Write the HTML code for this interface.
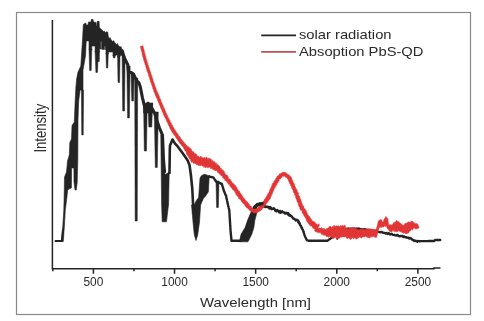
<!DOCTYPE html>
<html><head><meta charset="utf-8"><style>
html,body{margin:0;padding:0;background:#fff;}
body{width:484px;height:321px;overflow:hidden;position:relative;}
svg{position:absolute;left:0;top:0;will-change:transform;}
text{font-family:"Liberation Sans",sans-serif;fill:#2a2a2a;}
</style></head><body>
<svg width="484" height="321" viewBox="0 0 484 321">
<rect x="16.5" y="12.5" width="454" height="302" fill="none" stroke="#8a8a8a" stroke-width="1.2"/>
<line x1="52.4" y1="20" x2="52.4" y2="268.5" stroke="#242424" stroke-width="1.5"/>
<polyline points="51.7,268.7 434,268.7 434,268 440.5,268" fill="none" stroke="#242424" stroke-width="1.5"/>
<line x1="52.84" y1="268.5" x2="52.84" y2="271.2" stroke="#242424" stroke-width="1.5"/><line x1="93.40" y1="268.5" x2="93.40" y2="273.8" stroke="#242424" stroke-width="1.5"/><line x1="133.96" y1="268.5" x2="133.96" y2="271.2" stroke="#242424" stroke-width="1.5"/><line x1="174.53" y1="268.5" x2="174.53" y2="273.8" stroke="#242424" stroke-width="1.5"/><line x1="215.09" y1="268.5" x2="215.09" y2="271.2" stroke="#242424" stroke-width="1.5"/><line x1="255.65" y1="268.5" x2="255.65" y2="273.8" stroke="#242424" stroke-width="1.5"/><line x1="296.21" y1="268.5" x2="296.21" y2="271.2" stroke="#242424" stroke-width="1.5"/><line x1="336.77" y1="268.5" x2="336.77" y2="273.8" stroke="#242424" stroke-width="1.5"/><line x1="377.34" y1="268.5" x2="377.34" y2="271.2" stroke="#242424" stroke-width="1.5"/><line x1="417.90" y1="268.5" x2="417.90" y2="273.8" stroke="#242424" stroke-width="1.5"/>
<g font-size="11.9"><text x="93.40" y="285.5" text-anchor="middle">500</text><text x="174.53" y="285.5" text-anchor="middle">1000</text><text x="255.65" y="285.5" text-anchor="middle">1500</text><text x="336.77" y="285.5" text-anchor="middle">2000</text><text x="417.90" y="285.5" text-anchor="middle">2500</text></g>
<text x="200" y="306.8" font-size="13.4" transform="translate(200 0) scale(1.11 1) translate(-200 0)">Wavelength [nm]</text>
<text x="0" y="0" font-size="13.1" transform="translate(46 152.6) rotate(-90) scale(1 1.22)">Intensity</text>
<line x1="261.2" y1="35.4" x2="296" y2="35.4" stroke="#242424" stroke-width="1.7"/>
<line x1="261.2" y1="51.9" x2="296" y2="51.9" stroke="#bb5252" stroke-width="1.9"/>
<text x="299" y="39.5" font-size="13.4" transform="translate(299 0) scale(1.1 1) translate(-299 0)">solar radiation</text>
<text x="299" y="56.3" font-size="13.4" transform="translate(299 0) scale(1.1 1) translate(-299 0)">Absoption PbS-QD</text>
<polyline points="55.50,241.00 61.80,241.00 63.00,230.00" fill="none" stroke="#242424" stroke-width="2.0" stroke-linejoin="round" stroke-linecap="round"/><polygon points="61.50,241.50 62.80,226.00 63.80,210.00 64.20,194.00 64.50,177.00 66.50,172.00 67.50,161.00 69.30,155.00 69.80,142.50 71.50,139.00 72.00,125.50 74.30,122.00 75.20,100.00 75.90,87.00 76.60,79.00 78.00,72.00 80.80,66.00 81.50,55.00 82.50,40.00 83.30,25.00 83.80,24.00 85.80,23.00 86.20,25.00 88.00,25.00 88.50,22.00 91.00,22.00 91.30,19.50 93.00,19.30 93.50,22.00 96.00,22.50 96.30,26.00 96.90,26.00 97.10,21.50 99.10,21.30 99.30,27.00 100.20,28.40 101.50,29.50 103.50,31.50 104.40,31.00 105.50,33.00 106.30,31.80 107.70,32.00 108.40,37.00 109.20,38.70 110.00,37.50 111.00,39.60 112.50,41.50 113.50,40.50 114.70,42.40 116.50,44.50 117.50,43.50 118.50,46.00 120.30,47.10 121.00,46.50 122.20,50.00 124.30,57.80 124.30,57.80 122.80,57.00 122.80,55.50 120.00,55.50 120.00,57.00 117.60,57.00 117.60,55.00 115.30,55.00 115.30,56.00 113.00,56.00 113.00,52.00 108.30,52.00 108.30,54.00 106.00,54.00 106.00,49.50 105.30,49.50 105.30,46.00 104.40,46.00 104.40,49.40 101.60,49.20 101.60,41.50 100.70,41.50 100.70,49.10 99.40,49.00 99.40,52.00 95.10,52.00 95.10,46.00 91.80,46.00 91.80,50.00 89.00,50.00 89.00,40.90 86.20,40.90 85.60,55.00 84.30,63.00 83.00,70.00 83.00,90.00 80.10,90.00 78.70,101.00 78.00,120.00 77.80,160.00 77.20,182.70 76.20,190.00 75.00,190.00 74.00,182.00 73.90,168.00 71.60,168.00 71.40,188.00 69.80,188.50 67.70,190.00 66.60,200.00 65.30,210.00 64.40,226.00 63.30,241.50" fill="#242424" stroke="#242424" stroke-width="0.6" stroke-linejoin="round"/><polygon points="89.00,49.00 91.80,49.00 91.20,70.50 89.60,70.50" fill="#242424" stroke="#242424" stroke-width="0.5" stroke-linejoin="round"/><polygon points="95.05,51.00 98.35,51.00 97.50,72.40 95.90,72.40" fill="#242424" stroke="#242424" stroke-width="0.5" stroke-linejoin="round"/><polygon points="97.90,51.00 99.50,51.00 99.30,61.50 98.10,61.50" fill="#242424" stroke="#242424" stroke-width="0.5" stroke-linejoin="round"/><polygon points="105.95,53.00 108.25,53.00 107.80,68.00 106.40,68.00" fill="#242424" stroke="#242424" stroke-width="0.5" stroke-linejoin="round"/><polygon points="112.95,55.00 115.25,55.00 114.80,58.00 113.40,58.00" fill="#242424" stroke="#242424" stroke-width="0.5" stroke-linejoin="round"/><polygon points="117.60,56.00 120.00,56.00 119.60,82.40 118.00,82.40" fill="#242424" stroke="#242424" stroke-width="0.5" stroke-linejoin="round"/><polygon points="81.40,90.00 83.60,90.00 83.25,135.00 81.75,135.00" fill="#242424" stroke="#242424" stroke-width="0.5" stroke-linejoin="round"/><polyline points="122.20,50.80 124.30,57.80 126.40,62.00 127.80,64.80 128.50,71.80 131.30,72.50 133.40,74.00 135.50,78.20 137.60,81.70 139.00,83.00 140.40,87.30 142.40,97.60 144.50,106.00 146.10,105.00 148.00,103.20 151.10,106.80 154.80,113.60 156.70,120.00 159.30,127.50 162.40,135.00 163.50,160.00 164.50,172.00" fill="none" stroke="#242424" stroke-width="3.1" stroke-linejoin="round" stroke-linecap="round"/><polygon points="122.10,56.00 125.10,56.00 124.50,111.00 122.70,111.00" fill="#242424" stroke="#242424" stroke-width="0.5" stroke-linejoin="round"/><polygon points="126.85,66.00 130.15,66.00 129.40,118.00 127.60,118.00" fill="#242424" stroke="#242424" stroke-width="0.5" stroke-linejoin="round"/><polygon points="131.00,73.00 134.20,73.00 133.45,101.00 131.75,101.00" fill="#242424" stroke="#242424" stroke-width="0.5" stroke-linejoin="round"/><polygon points="134.70,78.00 137.70,78.00 137.25,221.00 135.15,221.00" fill="#242424" stroke="#242424" stroke-width="0.5" stroke-linejoin="round"/><polygon points="143.60,105.00 147.20,105.00 146.50,151.00 144.30,151.00" fill="#242424" stroke="#242424" stroke-width="0.5" stroke-linejoin="round"/><polygon points="148.00,103.00 152.60,103.00 151.80,127.00 148.80,127.00" fill="#242424" stroke="#242424" stroke-width="0.5" stroke-linejoin="round"/><polygon points="154.30,112.00 158.30,112.00 157.30,167.50 155.30,167.50" fill="#242424" stroke="#242424" stroke-width="0.5" stroke-linejoin="round"/><polygon points="143.60,106.00 152.60,103.00 152.60,113.00 143.60,113.00" fill="#242424" stroke="#242424" stroke-width="0.6" stroke-linejoin="round"/><polygon points="160.80,135.00 163.60,135.00 163.80,172.00 165.50,174.50 169.20,172.00 168.60,204.00 166.50,221.80 162.20,221.80 161.60,204.00" fill="#242424" stroke="#242424" stroke-width="0.6" stroke-linejoin="round"/><polyline points="169.50,173.00 169.80,150.00 170.00,145.50 172.50,139.50 175.00,143.70 177.50,146.20 182.50,153.00 187.40,160.00 189.50,165.00 190.90,175.00 192.30,189.00 193.00,203.00 193.70,213.00" fill="none" stroke="#242424" stroke-width="2.6" stroke-linejoin="round" stroke-linecap="round"/><polygon points="191.50,205.00 193.00,222.00 194.30,235.00 196.00,240.50 197.70,235.00 199.50,222.00 200.60,205.00 203.50,198.20 205.60,196.00 208.40,191.80 209.20,176.40 207.00,175.00 204.20,174.30 201.40,175.70 200.00,178.00 198.60,197.50 196.50,200.30 194.00,205.00" fill="#242424" stroke="#242424" stroke-width="0.6" stroke-linejoin="round"/><polyline points="209.10,176.24 209.87,176.90 210.63,176.95 211.40,177.05 212.17,177.32 212.93,177.38 213.70,177.84 214.12,178.41 214.53,179.31 214.95,179.93 215.37,180.56 215.78,180.71 216.20,181.67 216.82,181.85 217.45,182.22 218.07,182.77 218.70,182.37 219.47,182.98 220.25,183.23 221.03,183.73 221.80,183.69 222.01,184.99 222.22,185.08 222.43,185.91 222.64,186.43 222.86,187.33 223.07,188.30 223.28,188.49 223.49,189.25 223.70,190.33 223.98,190.99 224.26,191.78 224.53,192.08 224.81,193.21 225.09,193.83 225.37,194.56 225.64,194.74 225.92,195.70 226.20,196.03 226.35,197.42 226.50,198.21 226.65,198.89 226.80,198.94 226.95,199.92 227.10,200.79 227.25,201.51 227.40,201.91 227.55,203.16 227.70,203.51 227.85,204.39 228.00,204.82 228.19,205.89 228.37,206.28 228.56,206.97 228.74,208.03 228.93,208.59 229.11,209.70 229.30,210.01 229.34,210.86 229.39,211.29 229.43,212.13 229.47,213.03 229.51,213.83 229.56,214.46 229.60,215.48 229.64,215.62 229.69,216.91 229.73,217.08 229.77,218.43 229.81,218.80 229.86,219.42 229.90,220.30 229.94,221.21 229.99,222.00 230.03,222.28 230.07,222.70 230.11,223.52 230.16,224.67 230.20,225.31 230.24,226.00 230.29,226.39 230.33,227.30 230.37,227.76 230.41,228.52 230.46,229.32 230.50,230.29 230.57,230.86 230.63,231.62 230.70,232.12 230.77,232.91 230.83,233.58 230.90,234.32 230.97,235.04 231.03,235.76 231.10,236.48 231.17,237.20 231.23,237.92 231.30,238.64 231.37,239.36 231.43,240.08 231.50,240.80 232.23,240.80 232.96,240.80 233.69,240.80 234.42,240.80 235.15,240.80 235.88,240.80 236.62,240.80 237.35,240.80 238.08,240.80 238.81,240.80 239.54,240.80 240.27,240.80 241.00,240.80 241.19,240.10 241.37,239.49 241.56,238.83 241.74,238.12 241.93,237.37 242.11,236.61 242.30,236.10 242.70,235.47 243.10,235.06 243.50,234.20 243.90,234.14 244.30,233.27 244.70,232.17 244.94,231.90 245.19,231.80 245.43,230.12 245.67,230.05 245.92,229.75 246.16,228.45 246.41,228.01 246.65,227.09 246.89,226.34 247.14,225.98 247.38,225.28 247.62,224.31 247.87,223.82 248.11,223.16 248.36,222.73 248.60,221.32 248.92,220.71 249.25,220.22 249.57,219.59 249.90,219.49 250.22,218.45 250.55,218.25 250.88,217.13 251.20,216.36 251.53,216.12 251.85,214.85 252.18,215.13 252.50,214.32 252.78,213.09 253.06,212.37 253.35,212.18 253.63,211.44 253.91,210.58 254.19,209.26 254.47,209.29 254.75,207.84 255.04,207.73 255.32,206.94 255.60,206.62 256.26,206.00 256.91,205.03 257.57,205.65 258.23,205.16 258.89,204.71 259.54,203.59 260.20,204.45 260.84,204.25 261.48,205.12 262.12,206.16 262.76,206.32 263.40,204.76 264.05,206.58 264.70,206.10 265.35,207.05 266.00,206.49 266.65,206.91 267.30,207.16 267.98,206.64 268.65,207.27 269.32,208.38 270.00,207.10 270.68,207.38 271.35,209.16 272.02,208.97 272.70,208.90 273.35,208.21 274.00,208.48 274.65,209.18 275.30,210.86 275.95,210.26 276.60,211.33 277.25,210.02 277.90,210.74 278.55,211.28 279.20,212.21 279.85,210.90 280.50,212.82 281.27,212.05 282.05,211.18 282.82,212.18 283.60,212.17 284.38,212.94 285.15,213.62 285.93,212.77 286.70,213.31 287.25,213.10 287.80,214.41 288.35,213.37 288.90,215.23 289.45,214.41 290.00,215.78 290.62,215.45 291.23,216.29 291.85,216.40 292.47,217.33 293.08,218.38 293.70,218.74 294.42,218.77 295.13,219.49 295.85,220.40 296.57,219.65 297.28,220.46 298.00,220.55 298.36,222.37 298.71,221.64 299.07,223.17 299.43,222.86 299.79,223.64 300.14,225.35 300.50,225.66 300.86,225.76 301.21,226.17 301.57,227.93 301.93,228.02 302.29,229.02 302.64,229.43 303.00,230.20 303.21,230.84 303.42,231.69 303.63,232.31 303.84,232.80 304.06,233.48 304.27,234.07 304.48,234.88 304.69,235.39 304.90,236.11 305.22,236.85 305.53,237.42 305.85,238.11 306.17,238.77 306.48,239.43 306.80,240.10 307.53,240.33 308.27,240.57 309.00,240.80 309.71,240.80 310.42,240.80 311.12,240.80 311.83,240.80 312.54,240.80 313.25,240.80 313.95,240.80 314.66,240.80 315.37,240.80 316.08,240.80 316.78,240.80 317.49,240.80 318.20,240.80 318.91,240.80 319.62,240.80 320.32,240.80 321.03,240.80 321.74,240.80 322.45,240.80 323.15,240.80 323.86,240.80 324.57,240.80 325.28,240.80 325.98,240.80 326.69,240.80 327.40,240.80 328.02,240.33 328.63,239.89 329.25,239.41 329.87,238.94 330.48,238.48 331.10,238.07 331.72,237.75 332.34,237.08 332.96,236.89 333.58,236.47 334.20,235.93 334.82,235.46 335.44,235.13 336.06,234.58 336.68,234.22 337.30,233.95 337.97,233.54 338.63,232.88 339.30,232.42 339.97,232.70 340.63,231.99 341.30,231.97 341.97,231.26 342.63,231.10 343.30,230.72 343.97,230.66 344.63,230.50 345.30,229.86 345.97,229.59 346.63,229.11 347.30,228.70 348.03,229.25 348.76,228.61 349.49,229.25 350.22,229.03 350.95,228.58 351.68,229.21 352.41,228.60 353.14,228.95 353.86,228.62 354.59,229.24 355.32,228.75 356.05,229.14 356.78,228.59 357.51,228.99 358.24,228.59 358.97,228.57 359.70,228.92 360.41,229.27 361.12,229.17 361.82,229.36 362.53,229.41 363.24,229.35 363.95,229.19 364.66,229.54 365.37,229.44 366.07,229.72 366.78,229.72 367.49,229.89 368.20,229.83 368.91,230.18 369.62,230.13 370.32,230.26 371.03,230.16 371.74,230.45 372.45,230.57 373.16,230.84 373.87,230.76 374.57,230.67 375.28,230.84 375.99,230.95 376.70,231.20 377.39,231.48 378.08,231.67 378.77,231.82 379.46,231.98 380.15,232.11 380.84,232.33 381.53,231.85 382.22,232.34 382.91,232.57 383.60,232.81 384.30,232.90 384.99,233.06 385.68,233.50 386.37,232.87 387.06,233.41 387.75,233.96 388.44,233.24 389.13,233.46 389.82,234.32 390.51,234.55 391.20,233.80 391.92,233.95 392.64,234.86 393.36,234.86 394.07,234.83 394.79,235.03 395.51,235.35 396.23,235.54 396.95,234.87 397.67,235.07 398.39,235.95 399.11,236.27 399.82,236.27 400.54,235.97 401.26,236.03 401.98,236.18 402.70,235.97 403.43,236.94 404.15,236.58 404.88,237.10 405.60,237.22 406.32,237.19 407.05,237.73 407.77,237.67 408.50,237.60 409.23,238.55 409.97,238.01 410.70,238.21 411.30,238.69 411.90,239.31 412.50,240.02 413.10,239.88 413.70,240.14 414.30,240.98 415.03,240.65 415.77,241.07 416.50,240.88 417.23,241.72 417.97,241.03 418.70,241.20 419.40,241.22 420.11,241.18 420.81,241.17 421.52,241.16 422.22,241.15 422.93,241.15 423.63,241.14 424.34,241.13 425.04,241.12 425.75,241.11 426.45,241.10 427.15,241.09 427.86,241.08 428.56,241.07 429.27,241.06 429.97,241.05 430.68,241.05 431.38,241.04 432.09,241.03 432.79,241.02 433.50,241.01 434.20,241.00 435.10,240.00 435.83,240.00 436.56,240.00 437.29,240.00 438.01,240.00 438.74,240.00 439.47,240.00 440.20,240.00" fill="none" stroke="#242424" stroke-width="2.4" stroke-linejoin="round" stroke-linecap="round"/><polygon points="216.00,181.00 219.00,181.00 218.40,207.50 216.60,207.50" fill="#242424" stroke="#242424" stroke-width="0.5" stroke-linejoin="round"/><polygon points="239.50,241.80 241.00,234.30 245.20,227.40 247.50,220.60 250.30,213.70 254.20,206.00 257.00,203.60 256.60,213.70 254.80,220.60 253.90,227.40 251.80,234.30 248.00,241.80" fill="#242424" stroke="#242424" stroke-width="0.6" stroke-linejoin="round"/><polygon points="336.40,233.00 338.20,233.00 337.90,239.50 336.70,239.50" fill="#242424" stroke="#242424" stroke-width="0.5" stroke-linejoin="round"/>
<polygon points="142.95,45.78 143.16,46.05 143.12,46.38 143.17,47.01 143.46,47.58 143.45,48.22 143.60,48.83 143.93,49.39 144.16,49.97 144.22,50.60 144.22,51.24 144.48,51.82 144.53,52.44 144.63,53.06 144.91,53.63 145.08,54.23 145.23,54.84 145.37,55.44 145.68,56.01 145.78,56.62 145.77,57.26 145.92,57.86 146.21,58.42 146.39,59.00 146.58,59.56 146.46,60.22 146.91,60.70 147.12,61.25 147.03,61.90 147.43,62.40 147.40,63.04 147.86,63.53 147.78,64.18 147.97,64.75 148.37,65.26 148.48,65.85 148.55,66.46 148.72,67.04 148.90,67.61 149.12,68.17 149.55,68.66 149.52,69.30 149.68,69.88 150.07,70.39 150.02,71.04 150.24,71.60 150.61,72.11 150.64,72.73 150.76,73.32 151.00,73.88 151.22,74.44 151.60,74.95 151.66,75.56 151.72,76.17 152.15,76.66 152.12,77.30 152.47,77.82 152.47,78.45 152.89,78.95 152.92,79.57 152.98,80.18 153.23,80.73 153.43,81.30 153.73,81.84 153.77,82.45 153.92,83.04 154.27,83.55 154.48,84.12 154.77,84.66 154.65,85.32 154.98,85.84 155.07,86.43 155.40,86.95 155.53,87.53 155.95,88.01 156.07,88.61 156.12,89.25 156.31,89.83 156.77,90.31 156.78,90.98 157.17,91.50 157.35,92.10 157.51,92.71 157.97,93.19 158.20,93.77 158.46,94.34 158.54,94.97 158.97,95.47 159.04,96.12 159.43,96.63 159.58,97.24 159.80,97.82 159.86,98.47 160.42,98.92 160.56,99.53 160.80,100.11 160.93,100.72 161.04,101.35 161.26,101.93 161.66,102.43 161.97,102.97 162.18,103.55 162.29,104.17 162.55,104.73 162.76,105.31 163.26,105.77 163.33,106.41 163.53,106.99 163.72,107.58 164.19,108.05 164.46,108.61 164.59,109.22 164.67,109.86 165.17,110.32 165.37,110.91 165.45,111.54 165.75,112.08 165.91,112.69 166.30,113.18 166.43,113.79 166.92,114.23 166.83,114.93 167.38,115.32 167.58,115.88 167.70,116.48 167.86,117.07 168.29,117.52 168.70,117.99 168.71,118.65 169.17,119.10 169.44,119.63 169.77,120.14 170.00,120.69 170.19,121.27 170.28,121.89 170.82,122.30 170.92,122.92 171.35,123.37 171.59,123.92 171.78,124.50 172.25,124.94 172.53,125.47 172.48,126.16 172.95,126.59 173.11,127.17 173.57,127.58 173.86,128.06 174.03,128.61 174.36,129.08 174.66,129.59 174.84,130.18 175.48,130.49 175.66,131.10 175.94,131.67 176.50,132.04 176.57,132.75 177.10,133.13 177.44,133.66 177.92,134.09 178.27,134.60 178.45,135.23 178.73,135.79 179.24,136.20 179.72,136.62 180.12,137.10 180.48,137.61 180.55,138.31 180.93,138.79 181.41,139.19 181.85,139.62 182.00,140.24 182.56,140.54 182.70,141.19 183.37,141.41 183.61,141.98 183.99,142.46 184.41,142.90 184.94,143.25 185.12,143.89 185.58,144.31 186.03,144.73 186.37,145.25 187.01,145.51 187.19,146.15 187.58,146.62 188.46,146.69 188.75,147.25 189.04,147.82 190.09,147.79 190.50,148.31 190.49,149.15 191.45,149.29 191.60,150.01 191.79,150.69 192.25,151.17 192.81,151.58 193.52,151.85 193.68,152.47 194.24,152.79 194.15,153.57 195.11,153.52 195.78,153.68 196.19,154.07 196.46,154.61 197.12,154.84 196.75,155.94 197.00,156.42 198.09,155.81 197.62,156.90 197.88,156.98 198.53,156.11 198.77,156.21 198.99,156.90 199.34,157.64 200.19,156.55 200.96,156.15 201.44,157.06 202.09,157.16 202.63,157.82 203.25,158.06 204.06,157.37 204.71,157.44 205.21,158.21 206.10,157.16 206.82,157.11 207.19,158.74 208.12,158.17 208.83,158.57 209.73,158.53 210.51,158.85 211.24,159.17 211.46,160.51 212.46,160.08 212.57,161.42 213.37,161.38 214.24,161.25 214.64,162.06 215.16,162.64 215.72,163.15 216.63,163.11 216.51,164.53 217.46,164.39 218.03,164.77 218.60,165.14 218.94,165.84 219.53,166.26 220.02,166.82 220.21,167.72 220.42,168.54 221.43,168.52 221.51,169.38 222.30,169.56 222.69,170.07 222.98,170.65 223.74,170.82 223.89,171.52 224.50,171.83 224.62,172.56 224.74,173.29 224.99,173.92 225.63,174.21 225.94,174.80 226.56,175.12 227.29,175.36 227.72,175.86 227.99,176.48 228.23,177.12 228.21,177.97 228.71,178.40 229.12,178.89 229.87,179.12 230.52,179.40 230.59,180.15 230.86,180.73 231.47,181.01 231.56,181.71 231.95,182.17 232.30,182.66 232.61,183.18 233.17,183.50 233.82,183.74 234.39,184.05 234.09,185.10 234.75,185.36 235.56,185.52 235.60,186.29 236.13,186.69 236.70,187.06 236.75,187.79 237.12,188.29 237.13,189.03 237.74,189.35 238.01,189.90 238.37,190.39 238.81,190.82 239.32,191.21 239.84,191.59 239.97,192.24 239.81,193.09 240.70,193.21 240.70,193.95 241.31,194.27 241.58,194.82 242.05,195.23 241.98,196.00 242.84,196.11 242.49,197.08 243.02,197.41 243.64,197.65 243.94,198.14 243.98,198.87 244.70,199.03 244.96,199.59 245.23,200.16 246.01,200.28 245.91,201.16 246.84,201.15 247.20,201.64 247.34,202.31 248.02,202.53 248.32,203.10 248.49,203.79 249.22,204.00 249.41,204.68 249.60,205.38 250.01,205.87 250.77,206.02 251.25,206.39 251.68,206.75 251.70,207.53 252.02,207.97 252.80,207.76 253.03,208.39 253.54,208.56 253.99,208.79 254.50,208.70 254.86,208.62 255.06,208.66 255.26,208.75 255.67,209.11 255.87,208.36 256.53,208.77 256.93,208.47 257.39,208.24 257.92,208.16 257.96,207.43 258.27,207.11 259.07,207.18 258.93,206.28 259.93,206.33 259.94,205.53 260.04,204.77 260.57,204.35 261.17,204.00 261.92,203.75 261.85,202.85 262.74,202.71 263.11,202.15 263.15,201.33 263.88,201.06 264.05,200.37 264.54,199.93 264.48,199.10 265.21,198.88 265.38,198.28 265.57,197.72 265.94,197.31 266.20,196.85 266.47,196.39 266.60,195.86 267.20,195.52 267.19,194.88 267.76,194.49 267.73,193.81 268.29,193.40 268.68,192.91 268.85,192.32 269.30,191.85 269.49,191.28 269.17,190.47 270.03,190.19 269.83,189.44 270.54,189.09 270.66,188.48 270.86,187.90 270.80,187.20 271.40,186.79 271.67,186.22 271.83,185.59 271.71,184.79 272.48,184.45 272.28,183.58 272.92,183.20 273.30,182.68 273.98,182.35 273.71,181.45 274.26,181.04 274.79,180.63 274.81,179.91 275.66,179.68 275.71,178.95 275.79,178.22 276.58,177.95 276.84,177.32 276.83,176.48 277.41,176.09 278.12,175.79 278.67,175.32 279.24,174.87 279.34,173.75 280.41,173.89 280.90,173.01 281.78,172.96 282.55,172.36 283.46,172.31 284.35,172.34 285.24,172.33 286.08,172.64 286.73,173.21 287.21,173.93 287.89,174.20 288.36,174.77 289.17,174.89 289.67,175.44 290.01,176.14 290.72,176.55 291.38,177.02 291.01,178.01 291.85,178.36 291.98,179.00 291.75,179.75 292.65,180.02 292.73,180.64 292.76,181.28 292.93,181.86 293.25,182.38 293.37,182.98 294.00,183.36 294.41,183.83 294.46,184.46 294.78,184.97 294.46,185.77 295.15,186.13 295.00,186.88 295.81,187.20 295.46,188.06 295.79,188.61 296.26,189.09 296.95,189.47 296.89,190.21 297.37,190.69 297.33,191.42 297.62,192.00 297.88,192.60 298.62,193.00 298.60,193.71 298.29,194.52 298.79,195.00 298.81,195.66 299.36,196.12 299.85,196.59 299.50,197.38 300.34,197.72 300.09,198.47 300.13,199.11 301.05,199.41 301.04,200.07 300.83,200.82 301.42,201.26 301.21,202.03 301.86,202.46 301.91,203.14 302.18,203.72 302.23,204.40 302.49,204.99 303.08,205.42 303.34,205.98 303.89,206.39 304.07,206.93 303.75,207.74 304.19,208.18 304.47,208.70 305.29,208.94 305.37,209.63 305.24,210.44 306.39,210.56 306.39,211.28 306.70,211.84 306.73,212.54 307.40,212.89 307.12,213.72 307.34,214.28 308.02,214.59 308.27,215.11 308.61,215.57 308.99,216.02 309.35,216.48 309.95,216.79 309.84,217.58 310.33,217.99 310.79,218.39 310.86,219.04 311.49,219.26 311.43,219.97 311.92,220.24 312.27,220.62 312.63,221.03 313.01,221.47 313.82,221.46 314.33,221.79 314.87,222.11 315.21,222.62 315.18,223.57 316.06,223.38 315.99,224.36 317.01,223.86 317.23,224.50 317.64,224.89 319.03,223.71 319.24,224.44 319.42,225.24 315.92,231.43 315.32,231.13 314.68,230.90 315.30,228.64 314.35,228.91 314.00,228.23 312.92,228.52 312.74,227.59 312.19,227.17 312.11,226.23 311.40,226.05 310.68,225.88 310.00,225.66 310.23,224.42 309.06,224.64 308.92,223.79 308.15,223.51 308.13,222.59 307.35,222.32 306.85,221.84 306.73,221.13 306.45,220.56 306.38,219.87 305.87,219.46 305.95,218.67 305.70,218.07 305.10,217.69 304.84,217.09 304.61,216.47 304.11,216.00 303.75,215.45 303.89,214.66 303.08,214.36 302.68,213.87 302.80,213.12 301.97,212.86 302.38,211.97 302.19,211.40 301.80,210.92 301.17,210.58 300.58,210.19 300.32,209.58 300.21,208.88 299.58,208.42 299.93,207.50 299.43,206.98 298.89,206.48 298.59,205.89 298.79,205.11 298.15,204.67 298.11,203.98 298.24,203.22 298.04,202.61 297.18,202.25 297.04,201.62 297.08,200.93 296.70,200.41 296.66,199.76 296.40,199.20 296.00,198.69 295.92,198.06 295.55,197.54 295.69,196.84 295.24,196.36 295.30,195.69 294.85,195.23 294.47,194.74 294.31,194.15 294.63,193.34 294.10,192.90 293.44,192.51 293.31,191.88 293.22,191.21 293.24,190.50 292.93,189.94 292.58,189.40 292.01,188.96 291.89,188.31 291.37,187.84 291.62,187.04 291.37,186.47 290.93,185.99 290.50,185.51 290.45,184.87 290.33,184.27 289.70,183.89 289.74,183.22 289.34,182.73 289.31,182.09 289.14,181.51 288.25,181.24 288.46,180.49 288.43,179.89 288.10,179.45 287.70,179.12 287.26,178.91 287.45,178.29 286.99,178.19 286.63,177.94 286.44,177.37 286.01,177.10 285.37,177.24 285.13,176.72 284.87,176.28 284.53,176.07 284.12,176.33 283.71,176.25 283.29,176.60 282.82,176.56 282.29,176.37 281.97,176.69 281.95,177.32 281.66,177.58 281.35,177.91 280.86,178.15 280.84,178.83 280.14,179.00 279.60,179.32 279.19,179.74 279.21,180.47 279.05,181.07 278.48,181.43 277.97,181.84 278.24,182.75 277.53,183.05 277.10,183.52 277.22,184.33 276.32,184.51 276.58,185.38 275.77,185.61 275.92,186.37 275.31,186.69 275.11,187.23 275.04,187.83 274.40,188.17 274.12,188.69 274.30,189.42 273.62,189.79 273.28,190.30 273.72,191.16 273.09,191.54 272.61,191.99 272.76,192.73 272.23,193.15 272.55,193.96 271.84,194.30 271.37,194.76 271.83,195.63 270.86,195.86 270.85,196.53 270.84,197.23 270.51,197.79 270.42,198.50 270.02,199.07 269.55,199.59 268.97,200.01 268.81,200.71 268.29,201.14 268.01,201.74 267.36,202.07 267.28,202.84 266.87,203.37 266.07,203.61 266.02,204.43 265.52,204.90 265.30,205.58 264.28,205.62 264.39,206.56 263.44,206.65 263.46,207.51 262.99,207.97 262.52,208.48 261.91,208.88 261.77,209.76 261.12,210.17 260.52,210.67 259.92,211.13 259.20,211.36 258.56,211.63 257.92,211.93 257.42,212.71 256.55,212.56 255.77,212.66 254.93,212.84 253.99,213.21 253.26,212.63 252.68,211.88 251.73,212.06 251.33,211.23 250.42,211.31 250.02,210.57 249.22,210.35 249.08,209.43 248.46,209.06 247.86,208.67 247.71,207.91 246.71,207.94 246.65,207.14 245.82,207.01 245.65,206.28 244.91,206.09 244.94,205.21 244.61,204.67 244.24,204.18 243.55,203.98 243.52,203.20 242.60,203.20 242.57,202.43 242.08,202.06 241.57,201.69 241.13,201.25 241.18,200.40 240.76,199.94 240.12,199.63 240.02,198.91 239.01,198.87 238.57,198.41 238.84,197.46 238.14,197.20 237.84,196.66 237.73,196.00 237.10,195.70 236.54,195.35 236.72,194.48 235.80,194.38 235.79,193.65 235.54,193.09 235.32,192.50 234.64,192.23 234.73,191.42 234.45,190.89 233.78,190.62 233.71,189.93 232.81,189.85 232.75,189.18 232.03,189.00 232.22,188.13 231.67,187.83 230.97,187.65 230.56,187.23 230.86,186.21 229.83,186.28 229.55,185.73 229.70,184.82 229.34,184.35 228.41,184.33 228.14,183.77 227.96,183.13 227.32,182.85 227.05,182.25 226.92,181.53 226.17,181.31 225.78,180.80 225.01,180.59 224.73,179.98 224.85,179.06 224.01,178.92 223.65,178.38 223.29,177.86 222.56,177.66 222.75,176.68 222.25,176.29 221.66,175.98 220.98,175.75 221.08,174.83 220.09,174.86 219.74,174.33 219.51,173.71 218.92,173.38 218.70,172.77 217.77,172.81 217.64,172.15 217.47,171.54 216.94,171.30 216.82,170.59 216.05,170.60 215.22,170.70 214.58,170.52 214.43,169.65 213.55,169.77 212.88,169.64 212.45,169.21 212.20,168.54 211.78,168.15 210.85,168.64 210.33,168.45 210.38,167.10 209.63,167.22 208.83,167.49 208.20,167.47 207.36,168.02 207.42,166.60 206.65,167.31 206.20,167.26 205.60,167.61 205.02,167.80 204.81,166.14 203.88,167.54 203.55,165.98 202.94,165.71 202.17,166.18 201.73,165.17 201.08,165.05 200.22,165.96 199.56,165.91 199.16,164.60 198.23,165.82 197.78,164.38 196.78,165.01 196.21,163.80 195.15,163.95 194.51,162.96 193.06,163.32 193.00,161.84 191.36,162.33 190.91,161.60 191.22,160.27 190.11,160.34 190.44,159.10 189.47,158.98 189.14,158.29 188.57,157.79 188.82,156.72 188.11,156.39 187.72,155.83 187.66,155.08 186.98,154.77 186.49,154.36 186.37,153.70 186.42,152.94 186.24,152.34 186.14,151.69 185.76,151.24 185.12,151.01 185.04,150.31 184.39,150.06 184.37,149.28 184.06,148.75 183.57,148.36 183.46,147.65 183.21,147.07 182.66,146.73 182.16,146.35 181.89,145.79 181.69,145.16 181.12,144.83 180.85,144.26 180.34,143.88 179.82,143.49 179.41,143.00 179.22,142.33 178.78,141.86 178.42,141.32 177.99,140.85 177.71,140.27 177.54,139.63 177.03,139.22 176.61,138.76 176.25,138.25 176.12,137.58 175.53,137.23 175.42,136.55 175.12,136.01 174.78,135.48 174.16,135.16 173.93,134.55 173.62,134.01 173.06,133.64 172.76,133.09 172.34,132.62 172.02,132.07 171.73,131.48 171.34,130.96 171.24,130.25 170.83,129.75 170.41,129.25 170.22,128.64 169.82,128.15 169.74,127.52 169.37,127.03 169.36,126.36 168.82,125.96 168.58,125.41 168.41,124.83 168.21,124.25 168.02,123.68 167.64,123.19 167.49,122.60 167.23,122.06 166.68,121.66 166.53,121.06 166.35,120.48 166.24,119.87 165.91,119.36 165.73,118.78 165.42,118.26 164.91,117.84 164.73,117.25 164.67,116.60 164.41,116.03 164.01,115.53 163.61,115.02 163.50,114.39 163.29,113.80 163.10,113.21 162.90,112.62 162.37,112.18 162.17,111.59 162.06,110.97 161.89,110.37 161.62,109.81 161.19,109.33 161.13,108.68 160.80,108.15 160.48,107.62 160.33,107.01 160.26,106.37 159.84,105.88 159.84,105.20 159.27,104.77 159.18,104.13 159.04,103.52 158.67,103.00 158.38,102.44 158.12,101.87 157.98,101.26 157.81,100.65 157.40,100.14 157.26,99.53 157.03,98.95 156.88,98.34 156.58,97.79 156.27,97.24 156.01,96.68 155.84,96.07 155.53,95.53 155.37,94.92 155.07,94.37 154.96,93.74 154.57,93.23 154.43,92.61 154.23,92.02 153.88,91.49 153.67,90.90 153.73,90.20 153.30,89.69 153.05,89.11 152.75,88.54 152.80,87.86 152.52,87.30 152.44,86.69 152.18,86.13 152.01,85.55 151.80,84.99 151.43,84.48 151.45,83.84 151.10,83.32 151.06,82.70 150.70,82.19 150.55,81.60 150.28,81.06 150.38,80.40 150.03,79.88 149.74,79.34 149.55,78.77 149.62,78.12 149.23,77.61 149.26,76.97 148.84,76.47 148.78,75.86 148.61,75.29 148.37,74.73 148.20,74.16 148.17,73.53 147.91,72.99 147.75,72.41 147.33,71.91 147.25,71.30 147.15,70.71 146.81,70.19 146.65,69.60 146.63,68.98 146.40,68.42 146.15,67.87 145.93,67.31 145.84,66.71 145.74,66.11 145.59,65.53 145.35,64.97 145.00,64.45 144.95,63.84 144.79,63.26 144.49,62.72 144.37,62.12 144.16,61.55 144.06,60.93 143.69,60.39 143.67,59.74 143.50,59.13 143.45,58.49 143.25,57.90 142.96,57.33 142.72,56.74 142.79,56.08 142.52,55.51 142.38,54.90 142.17,54.31 142.14,53.68 142.05,53.06 141.96,52.44 141.82,51.83 141.49,51.27 141.24,50.70 141.37,50.02 140.99,49.48 140.99,48.83 140.70,48.27 140.63,47.64 140.46,47.04 140.42,46.73 140.32,46.43" fill="#e23636" stroke="#e23636" stroke-width="0.5" stroke-linejoin="round"/><polyline points="254.5,207.3 257.5,204.6 262,203.6" fill="none" stroke="#242424" stroke-width="3.4" stroke-linecap="round"/><polygon points="315.00,227.19 315.55,227.27 316.10,228.18 316.65,228.87 317.20,227.41 317.75,228.21 318.30,228.07 318.85,228.87 319.40,227.90 319.95,228.12 320.50,228.55 321.05,227.69 321.60,227.82 322.15,227.89 322.70,229.26 323.25,228.08 323.80,229.55 324.35,228.36 324.90,229.50 325.45,229.38 326.00,229.43 326.55,228.27 327.10,228.90 327.65,227.96 328.20,227.84 328.75,227.70 329.30,226.17 329.85,227.18 330.40,226.12 330.95,226.84 331.50,227.53 332.05,226.88 332.60,226.68 333.15,227.20 333.70,225.34 334.25,225.40 334.80,225.65 335.35,226.99 335.90,225.63 336.45,226.04 337.00,225.67 337.55,226.51 338.10,225.45 338.65,226.09 339.20,226.80 339.75,226.20 340.30,226.39 340.85,225.11 341.40,226.61 341.95,225.69 342.50,225.34 343.05,225.80 343.60,225.90 344.15,225.08 344.70,225.33 345.25,225.69 345.80,228.35 346.35,227.71 346.90,228.91 347.45,228.24 348.00,228.69 348.55,229.23 349.10,227.62 349.65,228.71 350.20,227.85 350.75,228.91 351.30,227.96 351.85,228.42 352.40,226.99 352.95,227.28 353.50,227.86 354.05,227.86 354.60,227.36 355.15,229.36 355.70,228.60 356.25,229.21 356.80,228.48 357.35,229.39 357.90,229.76 358.45,229.75 359.00,229.31 359.55,229.77 360.10,229.16 360.65,228.84 361.20,229.43 361.75,228.90 362.30,228.94 362.85,230.10 363.40,228.53 363.95,229.88 364.50,229.94 365.05,229.86 365.60,228.70 366.15,229.17 366.70,228.47 367.25,229.25 367.80,229.50 368.35,228.82 368.90,229.04 369.45,228.60 370.00,229.23 370.55,228.79 371.10,229.75 371.65,228.87 372.20,230.21 372.75,228.66 373.30,230.26 373.85,229.54 374.40,229.54 374.95,229.47 375.50,229.94 376.05,229.22 376.60,227.91 377.15,226.20 377.70,223.63 378.25,221.14 378.80,220.52 379.35,220.02 379.90,219.91 380.45,219.52 381.00,219.86 381.55,219.85 382.10,221.31 382.65,222.05 383.20,221.65 383.75,220.25 384.30,218.78 384.85,218.13 385.40,217.47 385.95,216.33 386.50,217.20 387.05,217.94 387.60,218.00 388.15,221.16 388.70,224.73 389.25,224.98 389.80,224.38 390.35,225.62 390.90,224.35 391.45,225.39 392.00,224.60 392.55,224.71 393.10,223.46 393.65,222.42 394.20,223.69 394.75,221.81 395.30,221.97 395.85,222.04 396.40,220.56 396.95,220.45 397.50,222.09 398.05,221.09 398.60,221.93 399.15,222.11 399.70,223.06 400.25,223.42 400.80,223.04 401.35,224.54 401.90,223.88 402.45,225.97 403.00,224.85 403.55,225.83 404.10,225.01 404.65,223.86 405.20,223.23 405.75,223.49 406.30,223.18 406.85,223.12 407.40,222.54 407.95,222.07 408.50,221.91 409.05,221.66 409.60,222.19 410.15,222.45 410.70,221.81 411.25,220.97 411.80,221.06 412.35,221.41 412.90,221.42 413.45,222.48 414.00,222.27 414.55,223.54 415.10,222.91 415.65,224.07 416.20,223.98 416.75,223.37 417.30,223.71 417.85,224.65 418.40,225.74 418.95,226.75 418.95,228.10 418.40,227.92 417.85,228.75 417.30,228.10 416.75,229.23 416.20,228.59 415.65,229.27 415.10,228.32 414.55,228.20 414.00,228.03 413.45,228.32 412.90,229.29 412.35,230.21 411.80,229.26 411.25,229.22 410.70,230.70 410.15,230.67 409.60,231.22 409.05,232.44 408.50,232.90 407.95,232.73 407.40,233.40 406.85,234.17 406.30,233.16 405.75,233.85 405.20,233.43 404.65,232.94 404.10,232.80 403.55,233.42 403.00,232.39 402.45,232.99 401.90,231.78 401.35,232.25 400.80,231.35 400.25,232.25 399.70,231.19 399.15,231.04 398.60,230.21 398.05,231.43 397.50,231.54 396.95,231.33 396.40,232.04 395.85,231.86 395.30,231.74 394.75,230.40 394.20,231.69 393.65,230.70 393.10,230.20 392.55,230.37 392.00,231.96 391.45,231.78 390.90,231.92 390.35,231.38 389.80,231.59 389.25,231.13 388.70,229.42 388.15,229.29 387.60,229.01 387.05,228.00 386.50,225.88 385.95,226.02 385.40,226.66 384.85,226.30 384.30,225.47 383.75,227.04 383.20,226.93 382.65,227.32 382.10,226.10 381.55,227.71 381.00,226.30 380.45,227.46 379.90,227.44 379.35,226.89 378.80,228.95 378.25,230.46 377.70,233.04 377.15,234.96 376.60,237.37 376.05,237.14 375.50,237.26 374.95,237.78 374.40,236.42 373.85,236.76 373.30,236.30 372.75,236.71 372.20,236.64 371.65,237.35 371.10,236.36 370.55,236.82 370.00,237.93 369.45,237.98 368.90,237.51 368.35,237.76 367.80,237.90 367.25,236.64 366.70,237.01 366.15,236.86 365.60,236.29 365.05,236.35 364.50,237.18 363.95,236.60 363.40,236.94 362.85,237.00 362.30,237.01 361.75,237.82 361.20,238.25 360.65,237.46 360.10,237.27 359.55,236.96 359.00,237.50 358.45,237.90 357.90,237.39 357.35,238.81 356.80,238.97 356.25,238.93 355.70,239.12 355.15,237.52 354.60,237.92 354.05,238.53 353.50,239.01 352.95,237.65 352.40,237.84 351.85,237.85 351.30,239.17 350.75,239.49 350.20,239.36 349.65,238.61 349.10,238.34 348.55,237.92 348.00,237.84 347.45,238.62 346.90,238.77 346.35,237.02 345.80,237.15 345.25,236.55 344.70,236.82 344.15,237.35 343.60,237.01 343.05,236.84 342.50,236.67 341.95,236.96 341.40,237.30 340.85,237.10 340.30,237.26 339.75,238.14 339.20,237.91 338.65,238.75 338.10,238.08 337.55,238.91 337.00,237.78 336.45,238.06 335.90,237.08 335.35,237.20 334.80,238.36 334.25,236.91 333.70,238.18 333.15,238.67 332.60,237.42 332.05,237.39 331.50,236.74 330.95,238.21 330.40,236.21 329.85,236.49 329.30,236.64 328.75,237.34 328.20,236.84 327.65,236.28 327.10,236.95 326.55,236.67 326.00,235.65 325.45,235.26 324.90,235.30 324.35,235.29 323.80,234.14 323.25,235.53 322.70,234.52 322.15,234.22 321.60,234.48 321.05,232.97 320.50,232.85 319.95,232.71 319.40,232.61 318.85,232.94 318.30,232.20 317.75,232.46 317.20,232.21 316.65,232.25 316.10,231.61 315.55,231.30 315.00,231.27" fill="#e23636" stroke="#e23636" stroke-width="0.5" stroke-linejoin="round"/>
</svg>
</body></html>
